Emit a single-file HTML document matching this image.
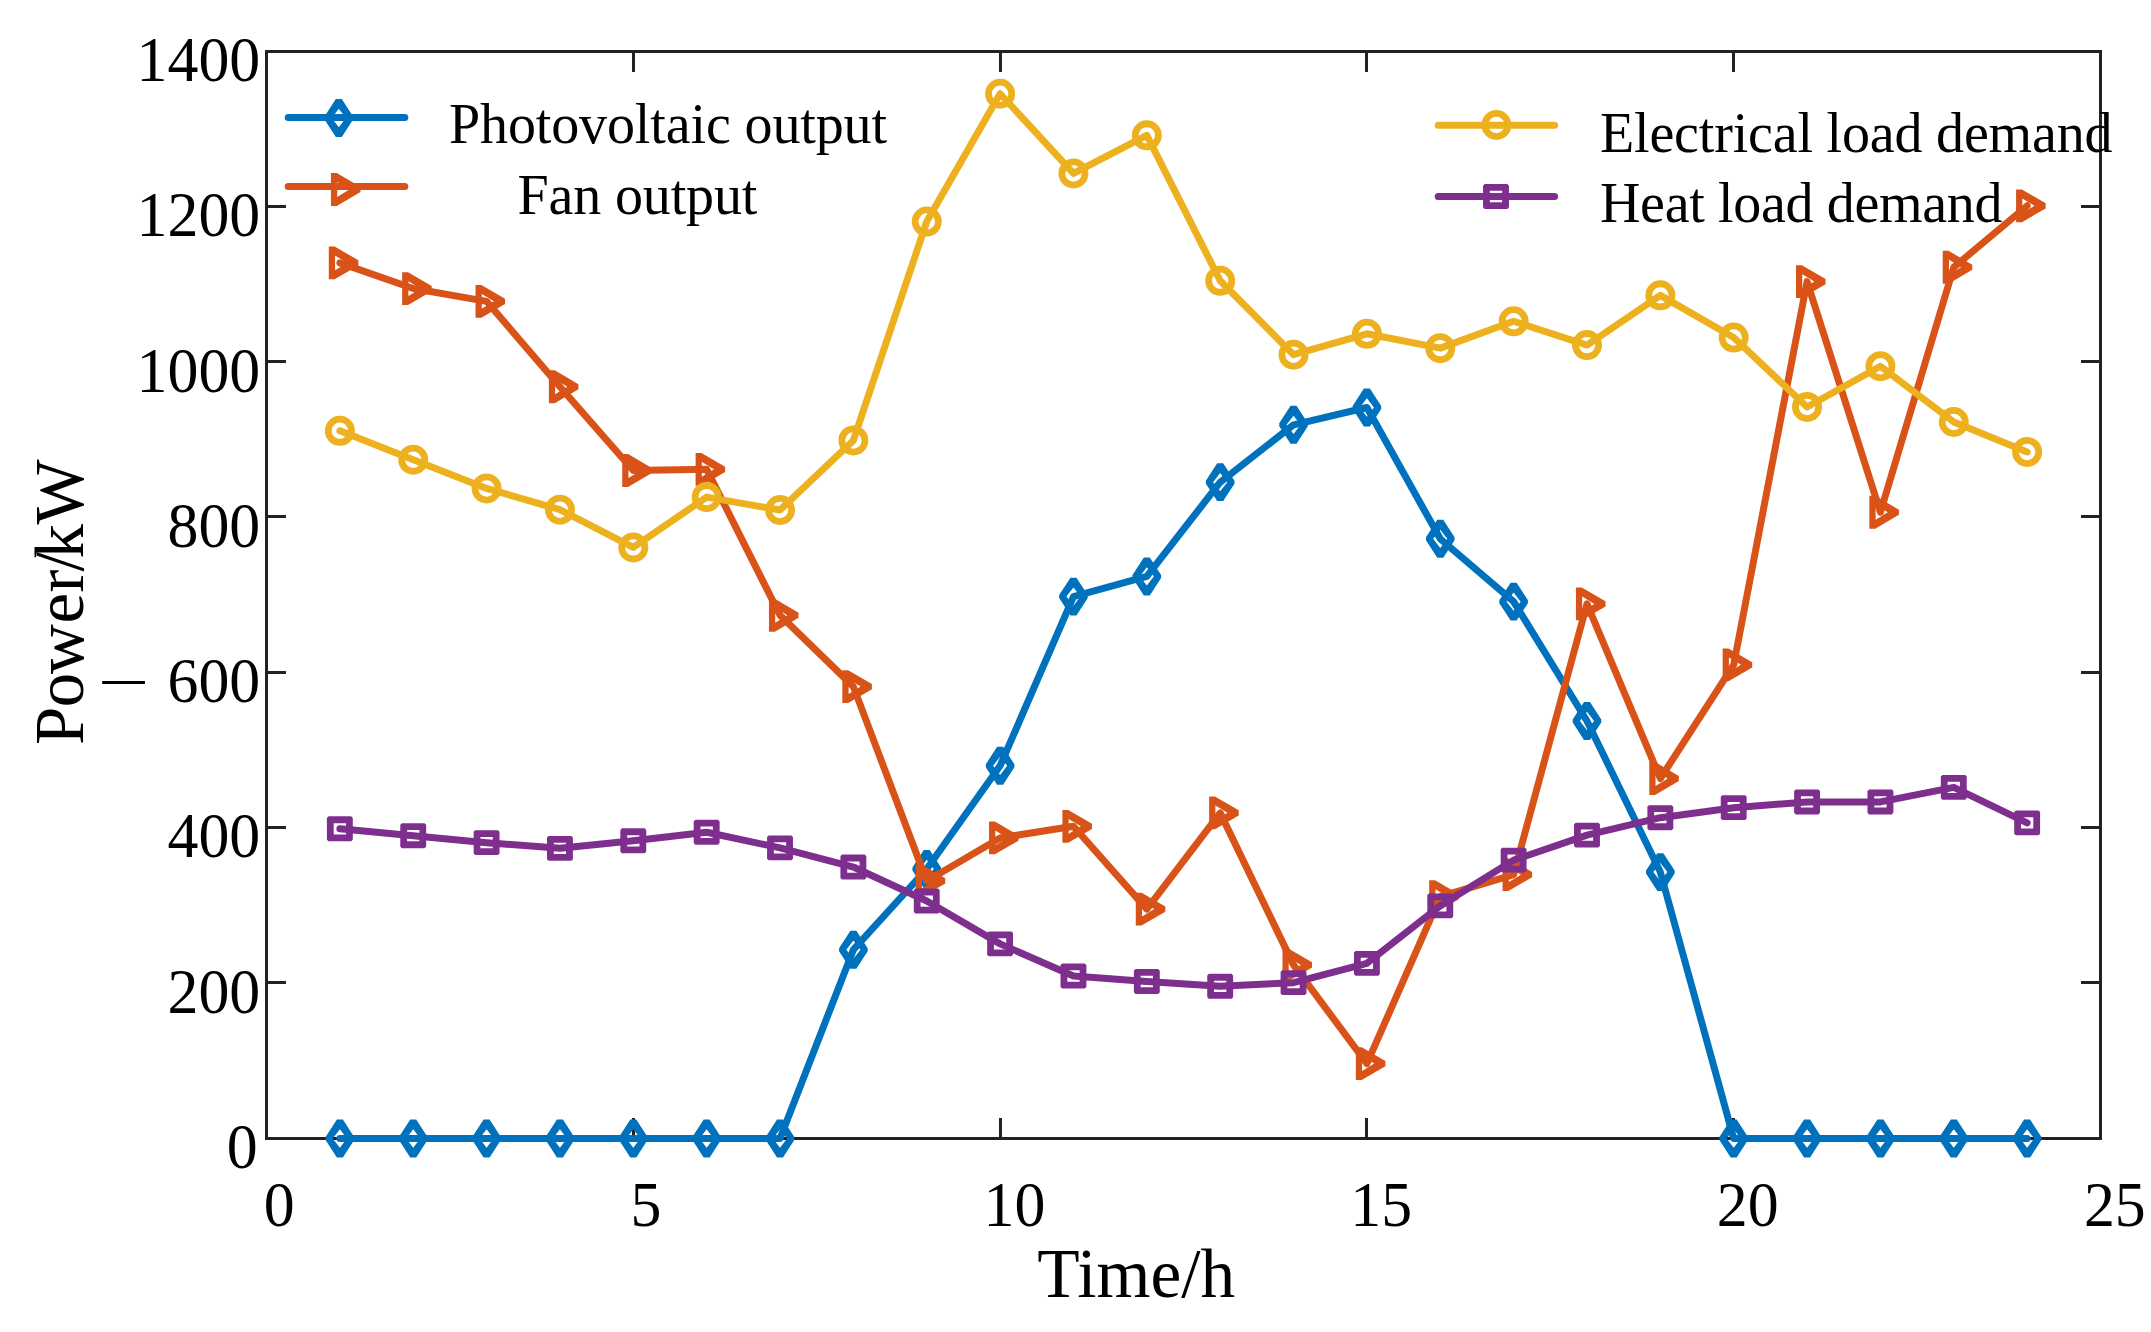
<!DOCTYPE html>
<html lang="en"><head><meta charset="utf-8"><title>Power curves</title>
<style>html,body{margin:0;padding:0;background:#fff}body{width:2151px;height:1332px;overflow:hidden}svg{display:block}text{font-family:"Liberation Serif","Times New Roman",serif;fill:#000}</style>
</head><body>
<svg width="2151" height="1332" viewBox="0 0 2151 1332">
<rect width="2151" height="1332" fill="#fff"/>
<g stroke="#222222" stroke-width="3" fill="none" stroke-linecap="butt" shape-rendering="crispEdges">
<rect x="266.5" y="51.5" width="1834" height="1087"/>
<path d="M633.5 1138.5v-20.5 M633.5 51.5v20.5"/>
<path d="M1000.5 1138.5v-20.5 M1000.5 51.5v20.5"/>
<path d="M1366.5 1138.5v-20.5 M1366.5 51.5v20.5"/>
<path d="M1733.5 1138.5v-20.5 M1733.5 51.5v20.5"/>
<path d="M266.5 982.5h19.5 M2100.5 982.5h-19.5"/>
<path d="M266.5 827.5h19.5 M2100.5 827.5h-19.5"/>
<path d="M266.5 672.5h19.5 M2100.5 672.5h-19.5"/>
<path d="M266.5 516.5h19.5 M2100.5 516.5h-19.5"/>
<path d="M266.5 361.5h19.5 M2100.5 361.5h-19.5"/>
<path d="M266.5 206.5h19.5 M2100.5 206.5h-19.5"/>
</g>
<g font-size="64">
<text x="226.8" y="1168" textLength="30.9" lengthAdjust="spacingAndGlyphs">0</text>
<text x="167.5" y="1012.71" textLength="92.7" lengthAdjust="spacingAndGlyphs">200</text>
<text x="167.5" y="857.43" textLength="92.7" lengthAdjust="spacingAndGlyphs">400</text>
<text x="167.5" y="702.14" textLength="92.7" lengthAdjust="spacingAndGlyphs">600</text>
<text x="167.5" y="546.86" textLength="92.7" lengthAdjust="spacingAndGlyphs">800</text>
<text x="136.6" y="391.57" textLength="123.6" lengthAdjust="spacingAndGlyphs">1000</text>
<text x="136.6" y="236.29" textLength="123.6" lengthAdjust="spacingAndGlyphs">1200</text>
<text x="136.6" y="81" textLength="123.6" lengthAdjust="spacingAndGlyphs">1400</text>
<text x="263.8" y="1226.3" textLength="30.9" lengthAdjust="spacingAndGlyphs">0</text>
<text x="630.6" y="1226.3" textLength="30.9" lengthAdjust="spacingAndGlyphs">5</text>
<text x="983.5" y="1226.3" textLength="61.8" lengthAdjust="spacingAndGlyphs">10</text>
<text x="1350.3" y="1226.3" textLength="61.8" lengthAdjust="spacingAndGlyphs">15</text>
<text x="1716.8" y="1226.3" textLength="61.8" lengthAdjust="spacingAndGlyphs">20</text>
<text x="2083.9" y="1226.3" textLength="61.8" lengthAdjust="spacingAndGlyphs">25</text>
</g>
<text x="1037.3" y="1297" font-size="69" textLength="197.8" lengthAdjust="spacingAndGlyphs">Time/h</text>
<text transform="translate(83.4 745) rotate(-90)" font-size="69" x="0 37.8 71 121.5 152.5 173.5 186.5 220.5">Power/kW</text>
<path d="M102.2 682.5H145" stroke="#000" stroke-width="3" fill="none"/>
<g>
<polyline points="339.86,1138.5 413.22,1138.5 486.58,1138.5 559.94,1138.5 633.3,1138.5 706.66,1138.5 780.02,1138.5 853.38,949.68 926.74,868.98 1000.1,765.77 1073.46,596.6 1146.82,576.43 1220.18,482.14 1293.54,424.8 1366.9,407.49 1440.26,538.79 1513.62,601.65 1586.98,720.99 1660.34,872.08 1733.7,1138.5 1807.06,1138.5 1880.42,1138.5 1953.78,1138.5 2027.14,1138.5" fill="none" stroke="#0072BD" stroke-width="7" stroke-linejoin="round" stroke-linecap="round"/>
<path d="M336.86 1119.55L342.86 1119.55L354.16 1137L354.16 1140L342.86 1157.45L336.86 1157.45L325.56 1140L325.56 1137ZM339.86 1129.36L346.9 1138.5L339.86 1147.64L332.82 1138.5Z" fill="#0072BD" fill-rule="evenodd"/>
<path d="M410.22 1119.55L416.22 1119.55L427.52 1137L427.52 1140L416.22 1157.45L410.22 1157.45L398.92 1140L398.92 1137ZM413.22 1129.36L420.26 1138.5L413.22 1147.64L406.18 1138.5Z" fill="#0072BD" fill-rule="evenodd"/>
<path d="M483.58 1119.55L489.58 1119.55L500.88 1137L500.88 1140L489.58 1157.45L483.58 1157.45L472.28 1140L472.28 1137ZM486.58 1129.36L493.62 1138.5L486.58 1147.64L479.54 1138.5Z" fill="#0072BD" fill-rule="evenodd"/>
<path d="M556.94 1119.55L562.94 1119.55L574.24 1137L574.24 1140L562.94 1157.45L556.94 1157.45L545.64 1140L545.64 1137ZM559.94 1129.36L566.98 1138.5L559.94 1147.64L552.9 1138.5Z" fill="#0072BD" fill-rule="evenodd"/>
<path d="M630.3 1119.55L636.3 1119.55L647.6 1137L647.6 1140L636.3 1157.45L630.3 1157.45L619 1140L619 1137ZM633.3 1129.36L640.34 1138.5L633.3 1147.64L626.26 1138.5Z" fill="#0072BD" fill-rule="evenodd"/>
<path d="M703.66 1119.55L709.66 1119.55L720.96 1137L720.96 1140L709.66 1157.45L703.66 1157.45L692.36 1140L692.36 1137ZM706.66 1129.36L713.7 1138.5L706.66 1147.64L699.62 1138.5Z" fill="#0072BD" fill-rule="evenodd"/>
<path d="M777.02 1119.55L783.02 1119.55L794.32 1137L794.32 1140L783.02 1157.45L777.02 1157.45L765.72 1140L765.72 1137ZM780.02 1129.36L787.06 1138.5L780.02 1147.64L772.98 1138.5Z" fill="#0072BD" fill-rule="evenodd"/>
<path d="M850.38 930.73L856.38 930.73L867.68 948.18L867.68 951.18L856.38 968.63L850.38 968.63L839.08 951.18L839.08 948.18ZM853.38 940.54L860.42 949.68L853.38 958.82L846.34 949.68Z" fill="#0072BD" fill-rule="evenodd"/>
<path d="M923.74 850.03L929.74 850.03L941.04 867.48L941.04 870.48L929.74 887.93L923.74 887.93L912.44 870.48L912.44 867.48ZM926.74 859.84L933.78 868.98L926.74 878.12L919.7 868.98Z" fill="#0072BD" fill-rule="evenodd"/>
<path d="M997.1 746.82L1003.1 746.82L1014.4 764.27L1014.4 767.27L1003.1 784.72L997.1 784.72L985.8 767.27L985.8 764.27ZM1000.1 756.63L1007.14 765.77L1000.1 774.91L993.06 765.77Z" fill="#0072BD" fill-rule="evenodd"/>
<path d="M1070.46 577.65L1076.46 577.65L1087.76 595.1L1087.76 598.1L1076.46 615.55L1070.46 615.55L1059.16 598.1L1059.16 595.1ZM1073.46 587.46L1080.5 596.6L1073.46 605.74L1066.42 596.6Z" fill="#0072BD" fill-rule="evenodd"/>
<path d="M1143.82 557.48L1149.82 557.48L1161.12 574.93L1161.12 577.93L1149.82 595.38L1143.82 595.38L1132.52 577.93L1132.52 574.93ZM1146.82 567.29L1153.86 576.43L1146.82 585.57L1139.78 576.43Z" fill="#0072BD" fill-rule="evenodd"/>
<path d="M1217.18 463.19L1223.18 463.19L1234.48 480.64L1234.48 483.64L1223.18 501.09L1217.18 501.09L1205.88 483.64L1205.88 480.64ZM1220.18 473L1227.22 482.14L1220.18 491.28L1213.14 482.14Z" fill="#0072BD" fill-rule="evenodd"/>
<path d="M1290.54 405.85L1296.54 405.85L1307.84 423.3L1307.84 426.3L1296.54 443.75L1290.54 443.75L1279.24 426.3L1279.24 423.3ZM1293.54 415.66L1300.58 424.8L1293.54 433.94L1286.5 424.8Z" fill="#0072BD" fill-rule="evenodd"/>
<path d="M1363.9 388.54L1369.9 388.54L1381.2 405.99L1381.2 408.99L1369.9 426.44L1363.9 426.44L1352.6 408.99L1352.6 405.99ZM1366.9 398.35L1373.94 407.49L1366.9 416.63L1359.86 407.49Z" fill="#0072BD" fill-rule="evenodd"/>
<path d="M1437.26 519.84L1443.26 519.84L1454.56 537.29L1454.56 540.29L1443.26 557.74L1437.26 557.74L1425.96 540.29L1425.96 537.29ZM1440.26 529.65L1447.3 538.79L1440.26 547.93L1433.22 538.79Z" fill="#0072BD" fill-rule="evenodd"/>
<path d="M1510.62 582.7L1516.62 582.7L1527.92 600.15L1527.92 603.15L1516.62 620.6L1510.62 620.6L1499.32 603.15L1499.32 600.15ZM1513.62 592.51L1520.66 601.65L1513.62 610.79L1506.58 601.65Z" fill="#0072BD" fill-rule="evenodd"/>
<path d="M1583.98 702.04L1589.98 702.04L1601.28 719.49L1601.28 722.49L1589.98 739.94L1583.98 739.94L1572.68 722.49L1572.68 719.49ZM1586.98 711.85L1594.02 720.99L1586.98 730.13L1579.94 720.99Z" fill="#0072BD" fill-rule="evenodd"/>
<path d="M1657.34 853.13L1663.34 853.13L1674.64 870.58L1674.64 873.58L1663.34 891.03L1657.34 891.03L1646.04 873.58L1646.04 870.58ZM1660.34 862.94L1667.38 872.08L1660.34 881.22L1653.3 872.08Z" fill="#0072BD" fill-rule="evenodd"/>
<path d="M1730.7 1119.55L1736.7 1119.55L1748 1137L1748 1140L1736.7 1157.45L1730.7 1157.45L1719.4 1140L1719.4 1137ZM1733.7 1129.36L1740.74 1138.5L1733.7 1147.64L1726.66 1138.5Z" fill="#0072BD" fill-rule="evenodd"/>
<path d="M1804.06 1119.55L1810.06 1119.55L1821.36 1137L1821.36 1140L1810.06 1157.45L1804.06 1157.45L1792.76 1140L1792.76 1137ZM1807.06 1129.36L1814.1 1138.5L1807.06 1147.64L1800.02 1138.5Z" fill="#0072BD" fill-rule="evenodd"/>
<path d="M1877.42 1119.55L1883.42 1119.55L1894.72 1137L1894.72 1140L1883.42 1157.45L1877.42 1157.45L1866.12 1140L1866.12 1137ZM1880.42 1129.36L1887.46 1138.5L1880.42 1147.64L1873.38 1138.5Z" fill="#0072BD" fill-rule="evenodd"/>
<path d="M1950.78 1119.55L1956.78 1119.55L1968.08 1137L1968.08 1140L1956.78 1157.45L1950.78 1157.45L1939.48 1140L1939.48 1137ZM1953.78 1129.36L1960.82 1138.5L1953.78 1147.64L1946.74 1138.5Z" fill="#0072BD" fill-rule="evenodd"/>
<path d="M2024.14 1119.55L2030.14 1119.55L2041.44 1137L2041.44 1140L2030.14 1157.45L2024.14 1157.45L2012.84 1140L2012.84 1137ZM2027.14 1129.36L2034.18 1138.5L2027.14 1147.64L2020.1 1138.5Z" fill="#0072BD" fill-rule="evenodd"/>
</g>
<g>
<polyline points="339.86,262.92 413.22,288.53 486.58,301.33 559.94,386.77 633.3,470.5 706.66,469.34 780.02,615.23 853.38,686.62 926.74,880.93 1000.1,837.94 1073.46,826.3 1146.82,909.1 1220.18,812.87 1293.54,964.89 1366.9,1063.6 1440.26,896.68 1513.62,874.64 1586.98,603.9 1660.34,778.5 1733.7,664.81 1807.06,281.62 1880.42,512.25 1953.78,267.27 2027.14,205.81" fill="none" stroke="#D95319" stroke-width="7" stroke-linejoin="round" stroke-linecap="round"/>
<path d="M328.8 246.52L334.66 246.52L358.36 260.32L358.36 265.52L334.66 279.32L328.8 279.32ZM335.06 255.52L347.16 262.92L335.06 270.32Z" fill="#D95319" fill-rule="evenodd"/>
<path d="M402.16 272.13L408.02 272.13L431.72 285.93L431.72 291.13L408.02 304.93L402.16 304.93ZM408.42 281.13L420.52 288.53L408.42 295.93Z" fill="#D95319" fill-rule="evenodd"/>
<path d="M475.52 284.93L481.38 284.93L505.08 298.73L505.08 303.93L481.38 317.73L475.52 317.73ZM481.78 293.93L493.88 301.33L481.78 308.73Z" fill="#D95319" fill-rule="evenodd"/>
<path d="M548.88 370.37L554.74 370.37L578.44 384.17L578.44 389.37L554.74 403.17L548.88 403.17ZM555.14 379.37L567.24 386.77L555.14 394.17Z" fill="#D95319" fill-rule="evenodd"/>
<path d="M622.24 454.1L628.1 454.1L651.8 467.9L651.8 473.1L628.1 486.9L622.24 486.9ZM628.5 463.1L640.6 470.5L628.5 477.9Z" fill="#D95319" fill-rule="evenodd"/>
<path d="M695.6 452.94L701.46 452.94L725.16 466.74L725.16 471.94L701.46 485.74L695.6 485.74ZM701.86 461.94L713.96 469.34L701.86 476.74Z" fill="#D95319" fill-rule="evenodd"/>
<path d="M768.96 598.83L774.82 598.83L798.52 612.63L798.52 617.83L774.82 631.63L768.96 631.63ZM775.22 607.83L787.32 615.23L775.22 622.63Z" fill="#D95319" fill-rule="evenodd"/>
<path d="M842.32 670.22L848.18 670.22L871.88 684.02L871.88 689.22L848.18 703.02L842.32 703.02ZM848.58 679.22L860.68 686.62L848.58 694.02Z" fill="#D95319" fill-rule="evenodd"/>
<path d="M915.68 864.53L921.54 864.53L945.24 878.33L945.24 883.53L921.54 897.33L915.68 897.33ZM921.94 873.53L934.04 880.93L921.94 888.33Z" fill="#D95319" fill-rule="evenodd"/>
<path d="M989.04 821.54L994.9 821.54L1018.6 835.34L1018.6 840.54L994.9 854.34L989.04 854.34ZM995.3 830.54L1007.4 837.94L995.3 845.34Z" fill="#D95319" fill-rule="evenodd"/>
<path d="M1062.4 809.9L1068.26 809.9L1091.96 823.7L1091.96 828.9L1068.26 842.7L1062.4 842.7ZM1068.66 818.9L1080.76 826.3L1068.66 833.7Z" fill="#D95319" fill-rule="evenodd"/>
<path d="M1135.76 892.7L1141.62 892.7L1165.32 906.5L1165.32 911.7L1141.62 925.5L1135.76 925.5ZM1142.02 901.7L1154.12 909.1L1142.02 916.5Z" fill="#D95319" fill-rule="evenodd"/>
<path d="M1209.12 796.47L1214.98 796.47L1238.68 810.27L1238.68 815.47L1214.98 829.27L1209.12 829.27ZM1215.38 805.47L1227.48 812.87L1215.38 820.27Z" fill="#D95319" fill-rule="evenodd"/>
<path d="M1282.48 948.49L1288.34 948.49L1312.04 962.29L1312.04 967.49L1288.34 981.29L1282.48 981.29ZM1288.74 957.49L1300.84 964.89L1288.74 972.29Z" fill="#D95319" fill-rule="evenodd"/>
<path d="M1355.84 1047.2L1361.7 1047.2L1385.4 1061L1385.4 1066.2L1361.7 1080L1355.84 1080ZM1362.1 1056.2L1374.2 1063.6L1362.1 1071Z" fill="#D95319" fill-rule="evenodd"/>
<path d="M1429.2 880.28L1435.06 880.28L1458.76 894.08L1458.76 899.28L1435.06 913.08L1429.2 913.08ZM1435.46 889.28L1447.56 896.68L1435.46 904.08Z" fill="#D95319" fill-rule="evenodd"/>
<path d="M1502.56 858.24L1508.42 858.24L1532.12 872.04L1532.12 877.24L1508.42 891.04L1502.56 891.04ZM1508.82 867.24L1520.92 874.64L1508.82 882.04Z" fill="#D95319" fill-rule="evenodd"/>
<path d="M1575.92 587.5L1581.78 587.5L1605.48 601.3L1605.48 606.5L1581.78 620.3L1575.92 620.3ZM1582.18 596.5L1594.28 603.9L1582.18 611.3Z" fill="#D95319" fill-rule="evenodd"/>
<path d="M1649.28 762.1L1655.14 762.1L1678.84 775.9L1678.84 781.1L1655.14 794.9L1649.28 794.9ZM1655.54 771.1L1667.64 778.5L1655.54 785.9Z" fill="#D95319" fill-rule="evenodd"/>
<path d="M1722.64 648.41L1728.5 648.41L1752.2 662.21L1752.2 667.41L1728.5 681.21L1722.64 681.21ZM1728.9 657.41L1741 664.81L1728.9 672.21Z" fill="#D95319" fill-rule="evenodd"/>
<path d="M1796 265.22L1801.86 265.22L1825.56 279.02L1825.56 284.22L1801.86 298.02L1796 298.02ZM1802.26 274.22L1814.36 281.62L1802.26 289.02Z" fill="#D95319" fill-rule="evenodd"/>
<path d="M1869.36 495.85L1875.22 495.85L1898.92 509.65L1898.92 514.85L1875.22 528.65L1869.36 528.65ZM1875.62 504.85L1887.72 512.25L1875.62 519.65Z" fill="#D95319" fill-rule="evenodd"/>
<path d="M1942.72 250.87L1948.58 250.87L1972.28 264.67L1972.28 269.87L1948.58 283.67L1942.72 283.67ZM1948.98 259.87L1961.08 267.27L1948.98 274.67Z" fill="#D95319" fill-rule="evenodd"/>
<path d="M2016.08 189.41L2021.94 189.41L2045.64 203.21L2045.64 208.41L2021.94 222.21L2016.08 222.21ZM2022.34 198.41L2034.44 205.81L2022.34 213.21Z" fill="#D95319" fill-rule="evenodd"/>
</g>
<g>
<polyline points="339.86,430.77 413.22,459.72 486.58,488.43 559.94,509.69 633.3,547.4 706.66,497.12 780.02,510 853.38,440.47 926.74,221.56 1000.1,93.75 1073.46,173.45 1146.82,135.35 1220.18,280.77 1293.54,354.72 1366.9,333.77 1440.26,348.13 1513.62,321.28 1586.98,345.1 1660.34,295.36 1733.7,337.57 1807.06,406.95 1880.42,366.21 1953.78,422 2027.14,451.96" fill="none" stroke="#EDB120" stroke-width="7" stroke-linejoin="round" stroke-linecap="round"/>
<circle cx="339.86" cy="430.77" r="11.6" fill="none" stroke="#EDB120" stroke-width="6.8"/>
<circle cx="413.22" cy="459.72" r="11.6" fill="none" stroke="#EDB120" stroke-width="6.8"/>
<circle cx="486.58" cy="488.43" r="11.6" fill="none" stroke="#EDB120" stroke-width="6.8"/>
<circle cx="559.94" cy="509.69" r="11.6" fill="none" stroke="#EDB120" stroke-width="6.8"/>
<circle cx="633.3" cy="547.4" r="11.6" fill="none" stroke="#EDB120" stroke-width="6.8"/>
<circle cx="706.66" cy="497.12" r="11.6" fill="none" stroke="#EDB120" stroke-width="6.8"/>
<circle cx="780.02" cy="510" r="11.6" fill="none" stroke="#EDB120" stroke-width="6.8"/>
<circle cx="853.38" cy="440.47" r="11.6" fill="none" stroke="#EDB120" stroke-width="6.8"/>
<circle cx="926.74" cy="221.56" r="11.6" fill="none" stroke="#EDB120" stroke-width="6.8"/>
<circle cx="1000.1" cy="93.75" r="11.6" fill="none" stroke="#EDB120" stroke-width="6.8"/>
<circle cx="1073.46" cy="173.45" r="11.6" fill="none" stroke="#EDB120" stroke-width="6.8"/>
<circle cx="1146.82" cy="135.35" r="11.6" fill="none" stroke="#EDB120" stroke-width="6.8"/>
<circle cx="1220.18" cy="280.77" r="11.6" fill="none" stroke="#EDB120" stroke-width="6.8"/>
<circle cx="1293.54" cy="354.72" r="11.6" fill="none" stroke="#EDB120" stroke-width="6.8"/>
<circle cx="1366.9" cy="333.77" r="11.6" fill="none" stroke="#EDB120" stroke-width="6.8"/>
<circle cx="1440.26" cy="348.13" r="11.6" fill="none" stroke="#EDB120" stroke-width="6.8"/>
<circle cx="1513.62" cy="321.28" r="11.6" fill="none" stroke="#EDB120" stroke-width="6.8"/>
<circle cx="1586.98" cy="345.1" r="11.6" fill="none" stroke="#EDB120" stroke-width="6.8"/>
<circle cx="1660.34" cy="295.36" r="11.6" fill="none" stroke="#EDB120" stroke-width="6.8"/>
<circle cx="1733.7" cy="337.57" r="11.6" fill="none" stroke="#EDB120" stroke-width="6.8"/>
<circle cx="1807.06" cy="406.95" r="11.6" fill="none" stroke="#EDB120" stroke-width="6.8"/>
<circle cx="1880.42" cy="366.21" r="11.6" fill="none" stroke="#EDB120" stroke-width="6.8"/>
<circle cx="1953.78" cy="422" r="11.6" fill="none" stroke="#EDB120" stroke-width="6.8"/>
<circle cx="2027.14" cy="451.96" r="11.6" fill="none" stroke="#EDB120" stroke-width="6.8"/>
</g>
<g>
<polyline points="339.86,828.78 413.22,835.69 486.58,842.67 559.94,848.34 633.3,840.81 706.66,832.27 780.02,847.87 853.38,867.04 926.74,901.03 1000.1,943.86 1073.46,975.99 1146.82,981.5 1220.18,986.31 1293.54,982.66 1366.9,963.34 1440.26,905.84 1513.62,860.13 1586.98,835.14 1660.34,817.68 1733.7,807.67 1807.06,801.93 1880.42,801.93 1953.78,787.34 2027.14,822.88" fill="none" stroke="#7E2F8E" stroke-width="7" stroke-linejoin="round" stroke-linecap="round"/>
<path d="M328.51 816.33L351.21 816.33L352.81 817.93L352.81 839.63L351.21 841.23L328.51 841.23L326.91 839.63L326.91 817.93ZM333.71 823.13L346.01 823.13L346.01 834.43L333.71 834.43Z" fill="#7E2F8E" fill-rule="evenodd"/>
<path d="M401.87 823.24L424.57 823.24L426.17 824.84L426.17 846.54L424.57 848.14L401.87 848.14L400.27 846.54L400.27 824.84ZM407.07 830.04L419.37 830.04L419.37 841.34L407.07 841.34Z" fill="#7E2F8E" fill-rule="evenodd"/>
<path d="M475.23 830.22L497.93 830.22L499.53 831.82L499.53 853.52L497.93 855.12L475.23 855.12L473.63 853.52L473.63 831.82ZM480.43 837.02L492.73 837.02L492.73 848.32L480.43 848.32Z" fill="#7E2F8E" fill-rule="evenodd"/>
<path d="M548.59 835.89L571.29 835.89L572.89 837.49L572.89 859.19L571.29 860.79L548.59 860.79L546.99 859.19L546.99 837.49ZM553.79 842.69L566.09 842.69L566.09 853.99L553.79 853.99Z" fill="#7E2F8E" fill-rule="evenodd"/>
<path d="M621.95 828.36L644.65 828.36L646.25 829.96L646.25 851.66L644.65 853.26L621.95 853.26L620.35 851.66L620.35 829.96ZM627.15 835.16L639.45 835.16L639.45 846.46L627.15 846.46Z" fill="#7E2F8E" fill-rule="evenodd"/>
<path d="M695.31 819.82L718.01 819.82L719.61 821.42L719.61 843.12L718.01 844.72L695.31 844.72L693.71 843.12L693.71 821.42ZM700.51 826.62L712.81 826.62L712.81 837.92L700.51 837.92Z" fill="#7E2F8E" fill-rule="evenodd"/>
<path d="M768.67 835.42L791.37 835.42L792.97 837.02L792.97 858.72L791.37 860.32L768.67 860.32L767.07 858.72L767.07 837.02ZM773.87 842.22L786.17 842.22L786.17 853.52L773.87 853.52Z" fill="#7E2F8E" fill-rule="evenodd"/>
<path d="M842.03 854.59L864.73 854.59L866.33 856.19L866.33 877.89L864.73 879.49L842.03 879.49L840.43 877.89L840.43 856.19ZM847.23 861.39L859.53 861.39L859.53 872.69L847.23 872.69Z" fill="#7E2F8E" fill-rule="evenodd"/>
<path d="M915.39 888.58L938.09 888.58L939.69 890.18L939.69 911.88L938.09 913.48L915.39 913.48L913.79 911.88L913.79 890.18ZM920.59 895.38L932.89 895.38L932.89 906.68L920.59 906.68Z" fill="#7E2F8E" fill-rule="evenodd"/>
<path d="M988.75 931.41L1011.45 931.41L1013.05 933.01L1013.05 954.71L1011.45 956.31L988.75 956.31L987.15 954.71L987.15 933.01ZM993.95 938.21L1006.25 938.21L1006.25 949.51L993.95 949.51Z" fill="#7E2F8E" fill-rule="evenodd"/>
<path d="M1062.11 963.54L1084.81 963.54L1086.41 965.14L1086.41 986.84L1084.81 988.44L1062.11 988.44L1060.51 986.84L1060.51 965.14ZM1067.31 970.34L1079.61 970.34L1079.61 981.64L1067.31 981.64Z" fill="#7E2F8E" fill-rule="evenodd"/>
<path d="M1135.47 969.05L1158.17 969.05L1159.77 970.65L1159.77 992.35L1158.17 993.95L1135.47 993.95L1133.87 992.35L1133.87 970.65ZM1140.67 975.85L1152.97 975.85L1152.97 987.15L1140.67 987.15Z" fill="#7E2F8E" fill-rule="evenodd"/>
<path d="M1208.83 973.86L1231.53 973.86L1233.13 975.46L1233.13 997.16L1231.53 998.76L1208.83 998.76L1207.23 997.16L1207.23 975.46ZM1214.03 980.66L1226.33 980.66L1226.33 991.96L1214.03 991.96Z" fill="#7E2F8E" fill-rule="evenodd"/>
<path d="M1282.19 970.21L1304.89 970.21L1306.49 971.81L1306.49 993.51L1304.89 995.11L1282.19 995.11L1280.59 993.51L1280.59 971.81ZM1287.39 977.01L1299.69 977.01L1299.69 988.31L1287.39 988.31Z" fill="#7E2F8E" fill-rule="evenodd"/>
<path d="M1355.55 950.89L1378.25 950.89L1379.85 952.49L1379.85 974.19L1378.25 975.79L1355.55 975.79L1353.95 974.19L1353.95 952.49ZM1360.75 957.69L1373.05 957.69L1373.05 968.99L1360.75 968.99Z" fill="#7E2F8E" fill-rule="evenodd"/>
<path d="M1428.91 893.39L1451.61 893.39L1453.21 894.99L1453.21 916.69L1451.61 918.29L1428.91 918.29L1427.31 916.69L1427.31 894.99ZM1434.11 900.19L1446.41 900.19L1446.41 911.49L1434.11 911.49Z" fill="#7E2F8E" fill-rule="evenodd"/>
<path d="M1502.27 847.68L1524.97 847.68L1526.57 849.28L1526.57 870.98L1524.97 872.58L1502.27 872.58L1500.67 870.98L1500.67 849.28ZM1507.47 854.48L1519.77 854.48L1519.77 865.78L1507.47 865.78Z" fill="#7E2F8E" fill-rule="evenodd"/>
<path d="M1575.63 822.69L1598.33 822.69L1599.93 824.29L1599.93 845.99L1598.33 847.59L1575.63 847.59L1574.03 845.99L1574.03 824.29ZM1580.83 829.49L1593.13 829.49L1593.13 840.79L1580.83 840.79Z" fill="#7E2F8E" fill-rule="evenodd"/>
<path d="M1648.99 805.23L1671.69 805.23L1673.29 806.83L1673.29 828.53L1671.69 830.13L1648.99 830.13L1647.39 828.53L1647.39 806.83ZM1654.19 812.03L1666.49 812.03L1666.49 823.33L1654.19 823.33Z" fill="#7E2F8E" fill-rule="evenodd"/>
<path d="M1722.35 795.22L1745.05 795.22L1746.65 796.82L1746.65 818.52L1745.05 820.12L1722.35 820.12L1720.75 818.52L1720.75 796.82ZM1727.55 802.02L1739.85 802.02L1739.85 813.32L1727.55 813.32Z" fill="#7E2F8E" fill-rule="evenodd"/>
<path d="M1795.71 789.48L1818.41 789.48L1820.01 791.08L1820.01 812.78L1818.41 814.38L1795.71 814.38L1794.11 812.78L1794.11 791.08ZM1800.91 796.28L1813.21 796.28L1813.21 807.58L1800.91 807.58Z" fill="#7E2F8E" fill-rule="evenodd"/>
<path d="M1869.07 789.48L1891.77 789.48L1893.37 791.08L1893.37 812.78L1891.77 814.38L1869.07 814.38L1867.47 812.78L1867.47 791.08ZM1874.27 796.28L1886.57 796.28L1886.57 807.58L1874.27 807.58Z" fill="#7E2F8E" fill-rule="evenodd"/>
<path d="M1942.43 774.89L1965.13 774.89L1966.73 776.49L1966.73 798.19L1965.13 799.79L1942.43 799.79L1940.83 798.19L1940.83 776.49ZM1947.63 781.69L1959.93 781.69L1959.93 792.99L1947.63 792.99Z" fill="#7E2F8E" fill-rule="evenodd"/>
<path d="M2015.79 810.43L2038.49 810.43L2040.09 812.03L2040.09 833.73L2038.49 835.33L2015.79 835.33L2014.19 833.73L2014.19 812.03ZM2020.99 817.23L2033.29 817.23L2033.29 828.53L2020.99 828.53Z" fill="#7E2F8E" fill-rule="evenodd"/>
</g>
<g font-size="56">
<path d="M288.2 117.4H404.8" stroke="#0072BD" stroke-width="7" stroke-linecap="round" fill="none"/>
<path d="M335.8 99.05L341.8 99.05L353.1 116.5L353.1 119.5L341.8 136.95L335.8 136.95L324.5 119.5L324.5 116.5ZM338.8 108.86L345.84 118L338.8 127.14L331.76 118Z" fill="#0072BD" fill-rule="evenodd"/>
<text x="449" y="142.7" textLength="438" lengthAdjust="spacing">Photovoltaic output</text>
<path d="M288.2 186.5H404.8" stroke="#D95319" stroke-width="7" stroke-linecap="round" fill="none"/>
<path d="M330.94 173.1L336.8 173.1L360.5 186.9L360.5 192.1L336.8 205.9L330.94 205.9ZM337.2 182.1L349.3 189.5L337.2 196.9Z" fill="#D95319" fill-rule="evenodd"/>
<text x="517.4" y="214.1" textLength="240" lengthAdjust="spacing">Fan output</text>
<path d="M1438.2 125.3H1554.6" stroke="#EDB120" stroke-width="7" stroke-linecap="round" fill="none"/>
<circle cx="1496.4" cy="125" r="11.6" fill="none" stroke="#EDB120" stroke-width="6.8"/>
<text x="1600" y="151.8" textLength="512.5" lengthAdjust="spacing">Electrical load demand</text>
<path d="M1438.2 196.5H1554.6" stroke="#7E2F8E" stroke-width="7" stroke-linecap="round" fill="none"/>
<path d="M1484.65 184.05L1507.35 184.05L1508.95 185.65L1508.95 207.35L1507.35 208.95L1484.65 208.95L1483.05 207.35L1483.05 185.65ZM1489.85 190.85L1502.15 190.85L1502.15 202.15L1489.85 202.15Z" fill="#7E2F8E" fill-rule="evenodd"/>
<text x="1600" y="222.4" textLength="402.5" lengthAdjust="spacing">Heat load demand</text>
</g>
</svg>
</body></html>
